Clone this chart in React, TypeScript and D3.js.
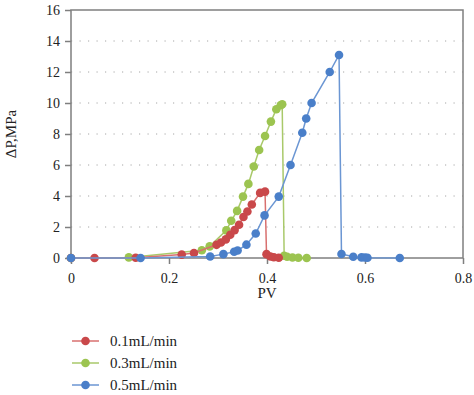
import { useEffect, useRef } from "react";
import * as d3 from "d3";

// 0.1 mL/min
const pv01 = [0, 0.048, 0.132, 0.226, 0.251, 0.297, 0.306, 0.316, 0.325, 0.334, 0.343, 0.352, 0.36, 0.369, 0.386, 0.396, 0.399, 0.407, 0.414, 0.424];
const dp01 = [0, 0, 0.02, 0.22, 0.32, 0.85, 1.0, 1.2, 1.5, 1.8, 2.15, 2.65, 3.0, 3.45, 4.2, 4.28, 0.25, 0.1, 0.05, 0.02];

// 0.3 mL/min
const pv03 = [0, 0.118, 0.267, 0.283, 0.317, 0.327, 0.339, 0.351, 0.362, 0.373, 0.384, 0.396, 0.408, 0.419, 0.428, 0.431, 0.435, 0.441, 0.452, 0.464, 0.481];
const dp03 = [0, 0.04, 0.5, 0.75, 1.78, 2.4, 3.04, 3.96, 4.78, 5.9, 6.97, 7.87, 8.8, 9.6, 9.85, 9.92, 0.15, 0.08, 0.03, 0.02, 0];

// 0.5 mL/min
const pv05 = [0, 0.142, 0.284, 0.311, 0.333, 0.34, 0.358, 0.377, 0.395, 0.424, 0.448, 0.472, 0.48, 0.491, 0.528, 0.547, 0.552, 0.576, 0.593, 0.6, 0.605, 0.671];
const dp05 = [0, 0, 0.1, 0.25, 0.4, 0.48, 0.86, 1.58, 2.75, 3.96, 6.0, 8.08, 9.0, 10.0, 12.0, 13.1, 0.26, 0.08, 0.04, 0.03, 0.02, 0];

const seriesNames = ["0.1mL/min", "0.3mL/min", "0.5mL/min"];
const colors = ["#c9484a", "#9cc450", "#4a7fc9"];
const lineColors = ["#d8706f", "#a9c96a", "#6b96d3"];

const xTicks = [0, 0.2, 0.4, 0.6, 0.8];
const yTicks = [0, 2, 4, 6, 8, 10, 12, 14, 16];

const font = "Liberation Serif, DejaVu Serif, Times New Roman, serif";

const App = () => {
  const ref = useRef(null);

  useEffect(() => {
    const svg = d3.select(ref.current);
    svg.selectAll("*").remove();

    const x = d3.scaleLinear().domain([0, 0.8]).range([71, 463]);
    const y = d3.scaleLinear().domain([0, 16]).range([258, 10]);
    const frame = "#7f7f7f";

    // grid
    svg
      .append("g")
      .selectAll("line")
      .data(yTicks.filter((t) => t > 0 && t < 16))
      .join("line")
      .attr("x1", x(0))
      .attr("x2", x(0.8))
      .attr("y1", (d) => y(d))
      .attr("y2", (d) => y(d))
      .attr("stroke", "#a6a6a6")
      .attr("stroke-width", 1)
      .attr("stroke-dasharray", "1.2,7.3");

    // frame
    svg
      .append("rect")
      .attr("x", x(0))
      .attr("y", y(16))
      .attr("width", x(0.8) - x(0))
      .attr("height", y(0) - y(16))
      .attr("fill", "none")
      .attr("stroke", frame)
      .attr("stroke-width", 1.5);

    const xAxis = svg
      .append("g")
      .attr("transform", `translate(0,${y(0)})`)
      .call(
        d3
          .axisBottom(x)
          .tickValues(xTicks)
          .tickSize(6)
          .tickSizeOuter(0)
          .tickPadding(9)
          .tickFormat((d) => String(d))
      );
    xAxis.select(".domain").remove();
    xAxis.selectAll("line").attr("stroke", frame).attr("stroke-width", 1.5);
    xAxis
      .selectAll("text")
      .style("font-family", font)
      .style("font-size", "14px")
      .attr("fill", "#222");

    const yAxis = svg
      .append("g")
      .attr("transform", `translate(${x(0)},0)`)
      .call(
        d3
          .axisLeft(y)
          .tickValues(yTicks)
          .tickSize(6)
          .tickSizeOuter(0)
          .tickPadding(5)
          .tickFormat((d) => String(d))
      );
    yAxis.select(".domain").remove();
    yAxis.selectAll("line").attr("stroke", frame).attr("stroke-width", 1.5);
    yAxis
      .selectAll("text")
      .style("font-family", font)
      .style("font-size", "14px")
      .attr("fill", "#222");

    // axis titles
    svg
      .append("text")
      .attr("x", 267)
      .attr("y", 298)
      .attr("text-anchor", "middle")
      .style("font-family", font)
      .style("font-size", "15px")
      .attr("fill", "#222")
      .text("PV");
    svg
      .append("text")
      .attr("transform", `translate(16,${(y(0) + y(16)) / 2}) rotate(-90)`)
      .attr("text-anchor", "middle")
      .style("font-family", font)
      .style("font-size", "15px")
      .attr("fill", "#222")
      .text("ΔP,MPa");

    const all = [
      { pv: pv01, dp: dp01, i: 0 },
      { pv: pv03, dp: dp03, i: 1 },
      { pv: pv05, dp: dp05, i: 2 },
    ];
    const line = d3
      .line<[number, number]>()
      .x((d) => x(d[0]))
      .y((d) => y(d[1]));

    // green drawn under red, blue on top
    [all[1], all[0], all[2]].forEach((s) => {
      const pts = s.pv.map((v, k) => [v, s.dp[k]] as [number, number]);
      svg
        .append("path")
        .attr("d", line(pts))
        .attr("fill", "none")
        .attr("stroke", lineColors[s.i])
        .attr("stroke-width", 1.5);
      svg
        .append("g")
        .selectAll("circle")
        .data(pts)
        .join("circle")
        .attr("cx", (d) => x(d[0]))
        .attr("cy", (d) => y(d[1]))
        .attr("r", 4.3)
        .attr("fill", colors[s.i]);
    });

    // legend
    const lg = svg
      .selectAll("g.lg")
      .data(seriesNames)
      .join("g")
      .attr("class", "lg")
      .attr("transform", (d, i) => `translate(72,${341 + i * 22})`);
    lg.append("line")
      .attr("x1", 0)
      .attr("x2", 27)
      .attr("stroke", (d, i) => lineColors[i])
      .attr("stroke-width", 1.5);
    lg.append("circle")
      .attr("cx", 13.5)
      .attr("r", 4.3)
      .attr("fill", (d, i) => colors[i]);
    lg.append("text")
      .attr("x", 38)
      .attr("dy", "0.35em")
      .style("font-family", font)
      .style("font-size", "15px")
      .attr("fill", "#222")
      .text((d) => d);
  }, []);

  return (
    <div style={{ position: "absolute", left: 0, top: 0 }}>
      <svg ref={ref} width={474} height={395} style={{ display: "block", background: "#fff" }}></svg>
    </div>
  );
};

export default App;
